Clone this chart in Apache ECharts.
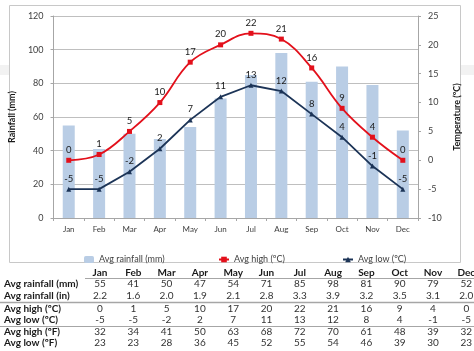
<!DOCTYPE html>
<html>
<head>
<meta charset="utf-8">
<script src="https://cdn.jsdelivr.net/npm/echarts@6/dist/echarts.min.js"></script>
<style>
  html, body { margin: 0; padding: 0; background: #fff; }
  #chart { width: 474px; height: 351px; }
</style>
</head>
<body>
<div id="chart"></div>
<script>
const months = ['Jan', 'Feb', 'Mar', 'Apr', 'May', 'Jun', 'Jul', 'Aug', 'Sep', 'Oct', 'Nov', 'Dec'];
const rainMm = [55, 41, 50, 47, 54, 71, 85, 98, 81, 90, 79, 52];
const rainIn = ['2.2', '1.6', '2.0', '1.9', '2.1', '2.8', '3.3', '3.9', '3.2', '3.5', '3.1', '2.0'];
const highC = [0, 1, 5, 10, 17, 20, 22, 21, 16, 9, 4, 0];
const lowC = [-5, -5, -2, 2, 7, 11, 13, 12, 8, 4, -1, -5];
const highF = [32, 34, 41, 50, 63, 68, 72, 70, 61, 48, 39, 32];
const lowF = [23, 23, 28, 36, 45, 52, 55, 54, 46, 39, 30, 23];

const tableRows = [
  ['Avg rainfall (mm)', rainMm],
  ['Avg rainfall (in)', rainIn],
  ['Avg high (ºC)', highC],
  ['Avg low (ºC)', lowC],
  ['Avg high (ºF)', highF],
  ['Avg low (ºF)', lowF],
];

const FONT = 'Lato, "Open Sans", sans-serif';
const chart = echarts.init(document.getElementById('chart'));

// 表格：表头 + 6 行，列中心等距
const colX = (i) => 100 + i * 33.3;
const headerY = 273;
const rowY = [284, 296, 309, 320, 332, 343];

const tableEls = [];
months.forEach((m, i) => {
  tableEls.push({
    type: 'text', x: colX(i), y: headerY,
    style: { text: m, align: 'center', verticalAlign: 'middle', textAlign: 'center', textVerticalAlign: 'middle',
      fontFamily: FONT, fontSize: 10, fontWeight: 'bold', fill: '#1a1a1a' },
  });
});
tableRows.forEach(([label, vals], r) => {
  tableEls.push({
    type: 'text', x: 4, y: rowY[r],
    style: { text: label, align: 'left', verticalAlign: 'middle', textAlign: 'left', textVerticalAlign: 'middle',
      fontFamily: FONT, fontSize: 10, fontWeight: 'bold', fill: '#1a1a1a' },
  });
  vals.forEach((v, i) => {
    tableEls.push({
      type: 'text', x: colX(i), y: rowY[r],
      style: { text: String(v), align: 'center', verticalAlign: 'middle', textAlign: 'center', textVerticalAlign: 'middle',
        fontFamily: FONT, fontSize: 10, fill: '#333' },
    });
  });
});
tableEls.push(
  { type: 'line', shape: { x1: 85, y1: 278.5, x2: 474, y2: 278.5 }, style: { stroke: '#a6a6a6', lineWidth: 1 } },
  { type: 'line', shape: { x1: 0, y1: 302.5, x2: 474, y2: 302.5 }, style: { stroke: '#a6a6a6', lineWidth: 1.5 } },
  { type: 'line', shape: { x1: 0, y1: 326.5, x2: 474, y2: 326.5 }, style: { stroke: '#a6a6a6', lineWidth: 1 } }
);

const RED = '#e3101b';
const NAVY = '#1c3457';
const BAR = '#b9cde5';

const labelStyle = { show: true, position: 'top', distance: 3, color: '#1a1a1a', fontSize: 9.5, fontFamily: FONT };

const legendBase = {
  top: 250, itemWidth: 10, itemHeight: 7, itemGap: 4,
  textStyle: { color: '#404040', fontSize: 9, fontFamily: FONT },
};

const option = {
  animation: false,
  textStyle: { fontFamily: FONT },
  graphic: [
    { type: 'rect', z: -10, shape: { x: 0, y: 65, width: 474, height: 10 }, style: { fill: '#f2f2f2' } },
    { type: 'rect', z: -9, shape: { x: 9.5, y: 5.5, width: 451, height: 257 }, style: { fill: '#fff', stroke: '#c8c8c8', lineWidth: 1 } },
    ...tableEls,
  ],
  legend: [
    { ...legendBase, left: 79, data: ['Avg rainfall (mm)'] },
    { ...legendBase, left: 213, data: ['Avg high (ºC)'] },
    { ...legendBase, left: 337, data: ['Avg low (ºC)'] },
  ],
  grid: { left: 50, right: 56, top: 16, bottom: 133 },
  xAxis: {
    type: 'category',
    data: months,
    axisLine: { lineStyle: { color: '#a6a6a6' } },
    axisTick: { show: true, length: 3, lineStyle: { color: '#a6a6a6' } },
    axisLabel: { color: '#404040', fontSize: 8, margin: 7 },
  },
  yAxis: [
    {
      type: 'value', min: 0, max: 120, interval: 20,
      name: 'Rainfall (mm)', nameLocation: 'middle', nameGap: 27, nameRotate: 90,
      nameTextStyle: { color: '#1a1a1a', fontSize: 9, fontWeight: 'bold' },
      axisLine: { show: true, lineStyle: { color: '#a6a6a6' } },
      axisTick: { show: true, length: 3, lineStyle: { color: '#a6a6a6' } },
      axisLabel: { color: '#404040', fontSize: 9, margin: 10 },
      splitLine: { lineStyle: { color: '#bfbfbf' } },
    },
    {
      type: 'value', min: -10, max: 25, interval: 5,
      name: 'Temperature (ºC)', nameLocation: 'middle', nameGap: 27, nameRotate: 90,
      nameTextStyle: { color: '#1a1a1a', fontSize: 9, fontWeight: 'bold' },
      axisLine: { show: true, lineStyle: { color: '#a6a6a6' } },
      axisTick: { show: true, length: 3, lineStyle: { color: '#a6a6a6' } },
      axisLabel: { color: '#404040', fontSize: 9, margin: 10 },
      splitLine: { show: false },
    },
  ],
  series: [
    {
      name: 'Avg rainfall (mm)', type: 'bar', yAxisIndex: 0, data: rainMm,
      barWidth: 12, itemStyle: { color: BAR },
    },
    {
      name: 'Avg high (ºC)', type: 'line', yAxisIndex: 1, data: highC, smooth: 0.4,
      symbol: 'rect', symbolSize: 5,
      itemStyle: { color: RED }, lineStyle: { color: RED, width: 1.8 },
      label: labelStyle,
    },
    {
      name: 'Avg low (ºC)', type: 'line', yAxisIndex: 1, data: lowC,
      symbol: 'triangle', symbolSize: 5,
      itemStyle: { color: NAVY }, lineStyle: { color: NAVY, width: 1.8 },
      label: labelStyle,
    },
  ],
};

chart.setOption(option);
</script>
</body>
</html>
